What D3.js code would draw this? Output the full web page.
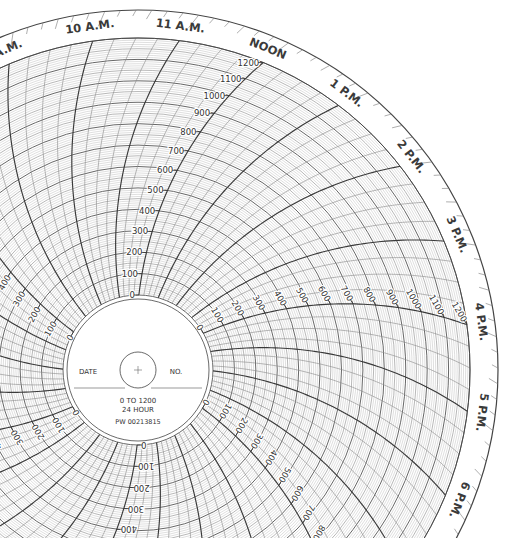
<!DOCTYPE html>
<html><head><meta charset="utf-8">
<script src="https://cdn.jsdelivr.net/npm/d3@7"></script>
<style>body{margin:0;background:#fff}svg{display:block}</style>
</head><body>
<script>
// ---- data ----
const hourLabels = ["MIDNIGHT","1 A.M.","2 A.M.","3 A.M.","4 A.M.","5 A.M.","6 A.M.","7 A.M.","8 A.M.","9 A.M.","10 A.M.","11 A.M.",
  "NOON","1 P.M.","2 P.M.","3 P.M.","4 P.M.","5 P.M.","6 P.M.","7 P.M.","8 P.M.","9 P.M.","10 P.M.","11 P.M."];
const valueTicks = [0,100,200,300,400,500,600,700,800,900,1000,1100,1200];
const labelHours = [0,4,8,12,16,20];
const hubTexts = ["0  TO  1200","24 HOUR","PW 00213815"];

const W=507,H=538, cx=138, cy=370, R=360;
const svg=d3.select("body").append("svg").attr("width",W).attr("height",H);
const rScale=d3.scaleLinear().domain([0,1200]).range([75,332]);
const tScale=d3.scaleLinear().domain([0,24]).range([-185.3,174.7]);
const rad=Math.PI/180;
const ang=(h,r)=>tScale(h)+Math.asin(Math.min(1,r/(2*R)))/rad;
const pt=(h,r)=>{const a=ang(h,r)*rad;return [cx+r*Math.sin(a), cy-r*Math.cos(a)];};
const g=svg.append("g");

// value circles
const circ=d3.range(0,1201,10);
g.selectAll("circle.v").data(circ).join("circle")
 .attr("cx",cx).attr("cy",cy).attr("r",d=>rScale(d)).attr("fill","none")
 .attr("stroke",d=>d%100===0?"#555":d%50===0?"#888":"#b8b8b8")
 .attr("stroke-width",d=>d%100===0?0.9:d%50===0?0.6:0.45);

// time arcs every 15 min
const line=d3.line();
const times=d3.range(0,24,0.25);
g.selectAll("path.t").data(times).join("path")
 .attr("d",h=>line(d3.range(75,332.5,4).concat([332]).map(r=>pt(h,r))))
 .attr("fill","none")
 .attr("stroke",h=>h%1===0?"#3a3a3a":"#888")
 .attr("stroke-width",h=>h%1===0?1.15:0.6);

// rim
g.append("circle").attr("cx",cx).attr("cy",cy).attr("r",R).attr("fill","none").attr("stroke","#444").attr("stroke-width",1.2);
g.append("circle").attr("cx",cx).attr("cy",cy).attr("r",rScale(1200)).attr("fill","none").attr("stroke","#444").attr("stroke-width",0.9);
const rimTicks=d3.range(0,24,1/6);
g.selectAll("path.rt").data(rimTicks).join("path")
 .attr("d",h=>{const l=Math.abs(h-Math.round(h))<1e-6?14:Math.abs(h*2-Math.round(h*2))<1e-6?9:6;return line([pt(h,R-l),pt(h,R)]);})
 .attr("stroke","#777").attr("stroke-width",0.6);

// rim labels
g.selectAll("text.h").data(hourLabels).join("text")
 .attr("transform",(d,i)=>{const a=ang(i,347)-1.5;const p=[cx+347*Math.sin(a*rad),cy-347*Math.cos(a*rad)];return `translate(${p[0]},${p[1]}) rotate(${a})`;})
 .attr("text-anchor","middle").attr("dy","0.35em")
 .attr("font-family","DejaVu Sans, sans-serif").attr("font-weight","bold").attr("font-size",11.5).attr("fill","#3a3a3a")
 .text(d=>d);

// value labels
labelHours.forEach(h=>{
  const rot=tScale(h)-tScale(12);
  const lg=g.append("g");
  valueTicks.forEach(v=>{
    const p=pt(h,rScale(v));
    const t=lg.append("g").attr("transform",`translate(${p[0]},${p[1]}) rotate(${rot})`);
    t.append("text").attr("x",-4).attr("dy","0.35em").attr("text-anchor","end")
     .attr("font-family","DejaVu Sans, sans-serif").attr("font-size",8.5).attr("fill","#333")
     .attr("stroke","#fff").attr("stroke-width",2.5).attr("paint-order","stroke").text(v);
    t.append("line").attr("x1",-5).attr("x2",0).attr("stroke","#333").attr("stroke-width",0.8);
  });
});

// hub
g.append("circle").attr("cx",cx).attr("cy",cy).attr("r",71).attr("fill","#fff").attr("stroke","#444").attr("stroke-width",0.8);
g.append("circle").attr("cx",cx).attr("cy",cy).attr("r",18).attr("fill","none").attr("stroke","#444").attr("stroke-width",0.8);
g.append("line").attr("x1",cx-4).attr("x2",cx+4).attr("y1",cy).attr("y2",cy).attr("stroke","#666").attr("stroke-width",0.6);
g.append("line").attr("y1",cy-4).attr("y2",cy+4).attr("x1",cx).attr("x2",cx).attr("stroke","#666").attr("stroke-width",0.6);
const ft={"font-family":"DejaVu Sans, sans-serif","font-size":7,"fill":"#333","text-anchor":"middle"};
const tx=(x,y,s)=>{const t=g.append("text").attr("x",x).attr("y",y).text(s);Object.entries(ft).forEach(([k,v])=>t.attr(k,v));return t;};
tx(cx-50,cy+4,"DATE");tx(cx+38,cy+4,"NO.");
g.append("line").attr("x1",cx-64).attr("x2",cx-13).attr("y1",cy+18).attr("y2",cy+18).attr("stroke","#999").attr("stroke-width",1.2);
g.append("line").attr("x1",cx+13).attr("x2",cx+64).attr("y1",cy+18).attr("y2",cy+18).attr("stroke","#999").attr("stroke-width",1.2);
tx(cx,cy+33,hubTexts[0]);tx(cx,cy+42,hubTexts[1]);tx(cx,cy+54,hubTexts[2]).attr("font-size",6.5);
</script>
</body></html>
